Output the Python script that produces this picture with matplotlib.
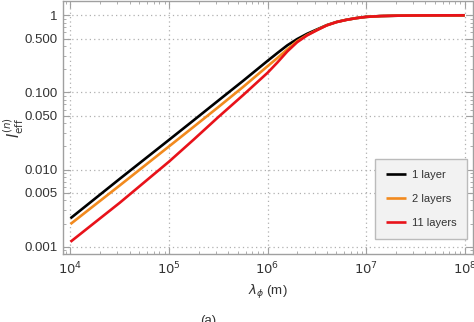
import numpy as np
import matplotlib.pyplot as plt
from matplotlib.ticker import FixedLocator, NullFormatter, LogLocator

# wavelength grid (log10 of lambda_phi in m) and read-off effective values
log_lam = [4.0, 4.5, 5.0, 5.25, 5.5, 5.75, 6.0, 6.1, 6.2, 6.3, 6.4, 6.5, 6.6, 6.7,
           6.8, 6.9, 7.0, 7.15, 7.3, 7.5, 7.75, 8.0]

i_1layer = [0.00234, 0.0076, 0.0243, 0.0436, 0.0785, 0.141, 0.257, 0.325, 0.408, 0.492,
            0.575, 0.655, 0.745, 0.820, 0.875, 0.920, 0.955, 0.978, 0.988, 0.995, 0.999, 1.0]
i_2layers = [0.00197, 0.00624, 0.0200, 0.0359, 0.0646, 0.1175, 0.219, 0.280, 0.362, 0.462,
             0.555, 0.645, 0.742, 0.818, 0.874, 0.919, 0.954, 0.978, 0.988, 0.995, 0.999, 1.0]
i_11layers = [0.00116, 0.00372, 0.0127, 0.0245, 0.0480, 0.092, 0.180, 0.245, 0.340, 0.448,
              0.548, 0.640, 0.740, 0.817, 0.873, 0.919, 0.954, 0.978, 0.988, 0.995, 0.999, 1.0]

labels = ["1 layer", "2 layers", "11 layers"]
colors = ["black", "#f28a1e", "#e8121a"]

y_ticks = [0.001, 0.005, 0.01, 0.05, 0.1, 0.5, 1]
y_ticklabels = ["0.001", "0.005", "0.010", "0.050", "0.100", "0.500", "1"]

plt.rcParams['font.family'] = ['Liberation Sans', 'DejaVu Sans']

fig = plt.figure(figsize=(4.74, 3.22), dpi=100)
ax = fig.add_axes([0.132, 0.211, 0.865, 0.787])

lam = 10.0 ** np.array(log_lam)
for vals, lab, col in zip([i_1layer, i_2layers, i_11layers], labels, colors):
    ax.plot(lam, vals, color=col, lw=1.9, label=lab, solid_capstyle='butt',
            solid_joinstyle='round')

ax.set_xscale('log')
ax.set_yscale('log')
ax.set_xlim(10 ** 3.92, 10 ** 8.08)
ax.set_ylim(10 ** -3.094, 10 ** 0.19)

ax.xaxis.set_major_locator(FixedLocator([1e4, 1e5, 1e6, 1e7, 1e8]))
ax.xaxis.set_minor_locator(LogLocator(base=10, subs=np.arange(2, 10)))
ax.xaxis.set_minor_formatter(NullFormatter())
ax.set_xticklabels([r"$10^{4}$", r"$10^{5}$", r"$10^{6}$", r"$10^{7}$", r"$10^{8}$"])

ax.yaxis.set_major_locator(FixedLocator(y_ticks))
ax.yaxis.set_minor_locator(LogLocator(base=10, subs=[2, 3, 4, 6, 7, 8, 9]))
ax.yaxis.set_minor_formatter(NullFormatter())
ax.set_yticklabels(y_ticklabels)

ax.grid(True, which='major', ls=(0, (1, 2.5)), color='#b0b0b0', lw=0.9)
for side in ax.spines.values():
    side.set_color('#a0a0a0')
    side.set_linewidth(1.0)
ax.tick_params(which='both', direction='in', top=True, right=True, color='#a0a0a0',
               labelcolor='#333333', labelsize=9.5)
ax.tick_params(which='major', length=5)
ax.tick_params(which='minor', length=2.5)
ax.tick_params(axis='x', pad=5)

ax.set_xlabel(r"$\lambda_\phi$ (m)", fontsize=9.5, color='#333333', labelpad=4)
ax.set_ylabel(r"$I_{\rm eff}^{(n)}$", fontsize=10.5, color='#333333')
ax.yaxis.set_label_coords(-0.088, 0.5)

leg = ax.legend(loc='lower right', bbox_to_anchor=(0.987, 0.059), borderaxespad=0,
                fontsize=8, frameon=True, fancybox=False, handlelength=1.8,
                handletextpad=0.5, labelspacing=1.25, borderpad=1.0)
leg.get_frame().set_facecolor('#f2f2f2')
leg.get_frame().set_edgecolor('#bbbbbb')
leg.get_frame().set_alpha(1)
for t in leg.get_texts():
    t.set_color('#333333')

fig.text(0.44, 1 - 315 / 322, "(a)", fontsize=9.5, color='#333333', ha='center', va='top')

fig.savefig("out.png", dpi=100, facecolor='white')
